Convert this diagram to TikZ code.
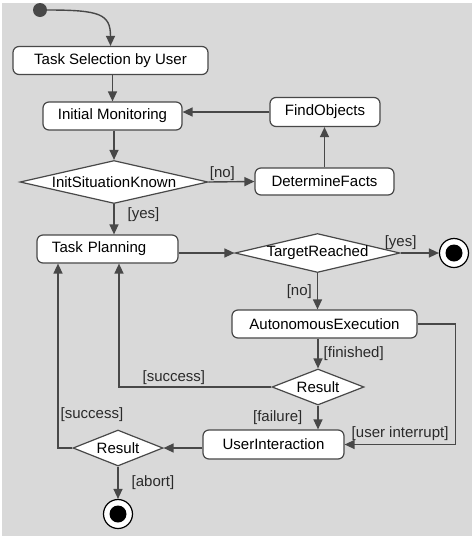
\documentclass[tikz,border=0pt]{standalone}
\usepackage{fontspec}
\setmainfont{Liberation Sans}
\usetikzlibrary{arrows.meta,shapes.geometric}
\definecolor{bggray}{HTML}{D9D9D9}
\definecolor{linegray}{HTML}{484848}
\definecolor{guardgray}{HTML}{2A2A2A}
\tikzset{
  activity/.style={draw=linegray, fill=white, rounded corners=6pt, line width=1.2pt, inner sep=0pt},
  decision/.style={diamond, draw=linegray, fill=white, line width=1.2pt, inner sep=0pt, label={center:#1}},
  initial/.style={circle, fill=linegray, minimum size=14, inner sep=0pt},
  final/.style={circle, draw=black, fill=white, line width=1.2pt, minimum size=29, inner sep=0pt,
    path picture={\fill[black] (path picture bounding box.center) circle (8.5pt);}},
  flow/.style={draw=linegray, line width=1.4pt, -{Triangle[length=10pt, width=9pt]}},
  guard/.style={text=guardgray, inner sep=1pt}
}

\begin{document}
\begin{tikzpicture}[x=1pt, y=-1pt, font=\fontsize{15}{17}\selectfont]
\fill[white] (0,0) rectangle (474,539);
\fill[bggray] (2,3) rectangle (472,536);
\useasboundingbox (0,0) rectangle (474,539);

\node[initial] (start) at (40,10) {};
\node[activity, minimum width=195, minimum height=28] (select) at (110.5,60.5) {Task Selection by User};
\node[activity, minimum width=139, minimum height=28] (monitor) at (112.5,116) {Initial Monitoring};
\node[activity, minimum width=110, minimum height=29] (find) at (325,112) {FindObjects};
\node[decision={InitSituationKnown}, minimum width=188, minimum height=43] (known) at (114,182) {};
\node[activity, minimum width=139, minimum height=27] (facts) at (324.5,181.5) {DetermineFacts};
\node[activity, minimum width=141, minimum height=28, text width=111, inner xsep=15, align=left] (plan) at (107.5,249) {Task Planning};
\node[decision={TargetReached}, minimum width=165, minimum height=39] (reached) at (317.5,253) {};
\node[final] (end1) at (454,253) {};
\node[activity, minimum width=185, minimum height=28] (auto) at (324.5,324) {AutonomousExecution};
\node[decision={Result}, minimum width=92, minimum height=36] (res1) at (318,387) {};
\node[activity, minimum width=141, minimum height=29] (user) at (273.5,444.5) {UserInteraction};
\node[decision={Result}, minimum width=90, minimum height=36] (res2) at (118,448) {};
\node[final] (end2) at (118,514) {};

\draw[flow] (start.east) .. controls (100,10) and (110.5,14) .. (select.north);
\draw[flow] (select.south -| monitor.north) -- (monitor.north);
\draw[flow] (monitor.south -| known.north) -- (known.north);
\draw[flow] (known.east) -- (facts.west) node[guard, pos=0.3, above] {[no]};
\draw[flow] (facts.north) -- (facts.north |- find.south);
\draw[flow] (find.west) -- (find.west -| monitor.east);
\draw[flow] (known.south) -- (known.south |- plan.north) node[guard, pos=0.35, right=12pt] {[yes]};
\draw[flow] (plan.east |- reached.west) -- (reached.west);
\draw[flow] (reached.east) -- (end1.west) node[guard, pos=0, above=2pt] {[yes]};
\draw[flow] (reached.south) -- (reached.south |- auto.north) node[guard, midway, left=4pt] {[no]};
\draw[flow] (auto.south -| res1.north) -- (res1.north) node[guard, midway, right=4pt] {[finished]};
\draw[flow] (res1.south) -- (res1.south |- user.north) node[guard, midway, left=14pt] {[failure]};
\draw[flow] (auto.east) -- ++(38,0) |- (user.east) node[guard, pos=0.75, above=2pt] {[user interrupt]};
\draw[flow] (res1.west) -| ([xshift=11.5pt]plan.south) node[guard, pos=0.32, above=1pt] {[success]};
\draw[flow] (user.west |- res2.east) -- (res2.east);
\draw[flow] (res2.west) -| ([xshift=-49.5pt]plan.south) node[guard, pos=0.59, right=1pt] {[success]};
\draw[flow] (res2.south) -- (end2.north) node[guard, midway, right=12pt] {[abort]};
\end{tikzpicture}
\end{document}
